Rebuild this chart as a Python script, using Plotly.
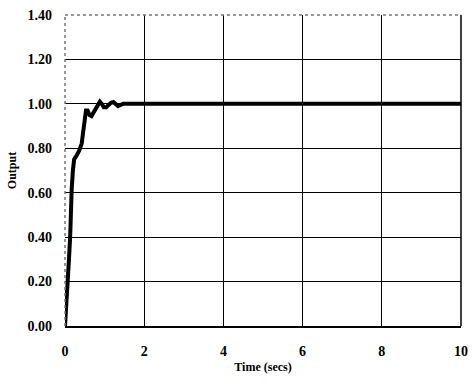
import plotly.graph_objects as go

time = [0, 0.02, 0.04, 0.06, 0.08, 0.10, 0.13, 0.15, 0.17, 0.20, 0.23, 0.30, 0.36, 0.42,
        0.47, 0.53, 0.57, 0.62, 0.67, 0.72, 0.78, 0.84, 0.88, 0.93, 0.98, 1.04, 1.10,
        1.16, 1.22, 1.28, 1.34, 1.40, 1.47, 1.6, 1.8, 2.0, 2.5, 3, 4, 5, 6, 7, 8, 9, 10]
output = [0, 0.05, 0.10, 0.15, 0.22, 0.30, 0.40, 0.55, 0.62, 0.70, 0.75, 0.77, 0.79, 0.82,
          0.90, 0.97, 0.97, 0.95, 0.945, 0.96, 0.98, 1.0, 1.01, 1.0, 0.985, 0.985, 0.995,
          1.005, 1.008, 1.0, 0.99, 0.995, 1.0, 1.0, 1.0, 1.0, 1.002, 1.0, 1.0, 1.0, 1.0,
          1.0, 1.0, 1.0, 1.0]

x_ticks = [0, 2, 4, 6, 8, 10]
y_ticks = [0, 0.2, 0.4, 0.6, 0.8, 1.0, 1.2, 1.4]
y_tick_labels = ["0.00", "0.20", "0.40", "0.60", "0.80", "1.00", "1.20", "1.40"]

font_family = "Liberation Serif, Times New Roman, serif"

fig = go.Figure()
fig.add_trace(go.Scatter(x=time, y=output, mode="lines",
                         line=dict(color="black", width=4), showlegend=False,
                         hoverinfo="skip"))

fig.update_layout(
    width=474, height=387,
    margin=dict(l=65, r=13, t=15, b=61, autoexpand=False),
    paper_bgcolor="white", plot_bgcolor="white",
    font=dict(family=font_family, color="black"),
    xaxis=dict(range=[0, 10], tickvals=x_ticks, ticktext=[str(v) for v in x_ticks],
               showgrid=True, gridcolor="black", gridwidth=1, automargin=False,
               showline=True, linecolor="black", linewidth=2,
               zeroline=False, ticks="", ticklabelstandoff=11,
               tickfont=dict(size=14, family=font_family, weight="bold"),
               title=dict(text="Time (secs)", standoff=5,
                          font=dict(size=12, family=font_family, weight="bold"))),
    yaxis=dict(range=[0, 1.4], tickvals=y_ticks, ticktext=y_tick_labels,
               showgrid=True, gridcolor="black", gridwidth=1, automargin=False,
               showline=False, zeroline=False, ticks="", ticklabelstandoff=12,
               tickfont=dict(size=14, family=font_family, weight="bold"),
               title=dict(text="Output", standoff=8,
                          font=dict(size=12, family=font_family, weight="bold"))),
    shapes=[
        dict(type="line", xref="paper", yref="paper", x0=0, x1=0, y0=0, y1=1,
             line=dict(color="#777", width=1.5, dash="dot")),
        dict(type="line", xref="paper", yref="paper", x0=0, x1=1, y0=1, y1=1,
             line=dict(color="#777", width=1.5, dash="dot")),
        dict(type="line", xref="paper", yref="paper", x0=1, x1=1, y0=0, y1=1,
             line=dict(color="black", width=1.5)),
    ],
)

fig.write_html("out.html", config={"displayModeBar": False},
               post_script="document.body.style.margin='0';document.body.style.overflow='hidden';")
